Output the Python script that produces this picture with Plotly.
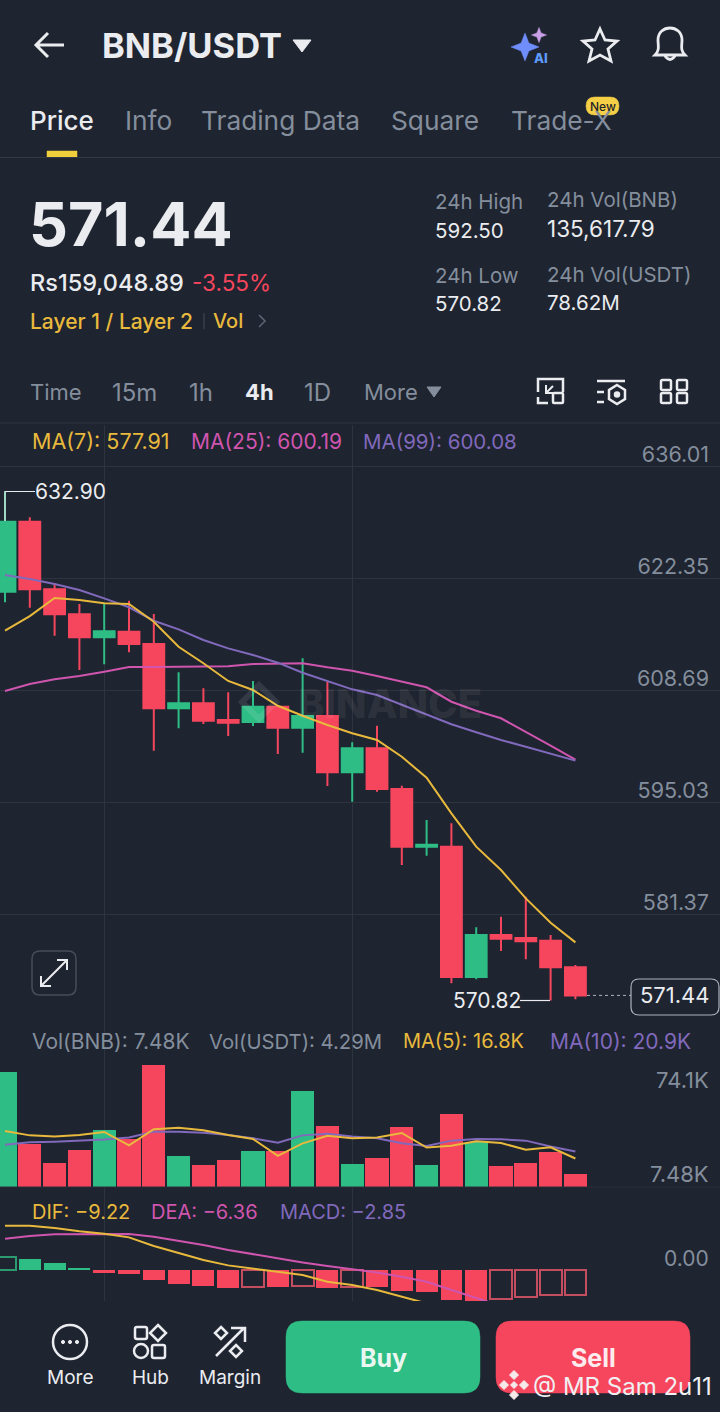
import plotly.graph_objects as go

W, H = 720, 1412
BG = "#1E2430"
RED = "#F6465D"
GREEN = "#2EBD85"
YELLOW = "#E8B93C"
MAGENTA = "#CF55AE"
PURPLE = "#8169BC"
GRAY = "#848E9C"
WHITE = "#EAECEF"
GRID = "#2E343F"
FONT = "Inter"

# candles
candle_x = list(range(24))
opens = [620.68, 629.22, 620.97, 617.92, 615.12, 615.80, 614.30, 606.46, 607.07, 605.03, 604.79, 606.65,
         604.09, 605.52, 598.65, 601.60, 596.62, 589.58, 589.58, 573.69, 578.81, 578.44, 578.11, 574.87]
highs = [632.90, 629.75, 621.70, 619.18, 619.26, 619.58, 617.96, 610.85, 608.90, 608.41, 609.79, 606.86,
         612.55, 609.70, 602.31, 604.34, 597.02, 592.83, 592.43, 579.75, 581.04, 583.48, 578.81, 575.15]
lows = [619.38, 618.73, 615.31, 611.13, 611.82, 613.29, 601.29, 604.02, 604.54, 603.08, 604.30, 600.88,
        601.04, 596.98, 595.07, 596.29, 587.35, 588.48, 572.92, 573.41, 576.86, 575.85, 570.82, 570.97]
closes = [629.22, 620.97, 617.92, 615.12, 615.85, 614.30, 606.46, 607.07, 604.95, 604.70, 606.65, 604.09,
          605.52, 598.65, 601.60, 596.62, 589.58, 589.82, 573.69, 578.81, 578.36, 578.04, 574.87, 571.44]
ma7 = [615.92, 617.71, 619.91, 619.67, 619.26, 619.18, 617.02, 613.97, 611.95, 609.79, 608.69, 606.77,
       605.55, 604.42, 603.41, 602.59, 600.55, 597.99, 593.65, 589.58, 586.74, 583.28, 580.31, 577.91]
ma25 = [608.57, 609.42, 609.99, 610.40, 610.92, 611.49, 611.49, 611.53, 611.58, 611.58, 611.86, 611.95,
        611.95, 611.46, 611.04, 610.40, 609.70, 609.02, 607.26, 606.16, 605.24, 603.60, 601.90, 600.19]
ma99 = [622.71, 622.23, 621.62, 620.89, 619.87, 618.78, 617.14, 616.09, 614.79, 613.77, 612.96, 612.02,
        610.80, 609.82, 608.77, 608.08, 606.86, 605.64, 604.51, 603.53, 602.59, 601.77, 600.88, 600.08]
price_ticks = [636.01, 622.35, 608.69, 595.03, 581.37, 567.71]

# volume panel, in thousands
volume = [67.5, 25.1, 13.9, 21.6, 33.6, 28.1, 71.8, 18.1, 13.2, 15.9, 21.2, 21.4,
          56.3, 35.7, 13.5, 17.3, 35.3, 12.8, 43.0, 26.7, 12.6, 14.3, 20.8, 7.48]
vol_ma5 = [33.0, 30.4, 29.8, 30.6, 32.4, 24.5, 34.0, 34.9, 33.4, 30.6, 28.3, 18.3,
           25.7, 30.2, 28.7, 29.2, 31.8, 23.2, 24.3, 26.9, 25.9, 22.0, 23.4, 16.8]
vol_ma10 = [24.9, 26.3, 26.7, 27.3, 27.9, 29.1, 32.6, 32.6, 32.0, 30.6, 28.7, 26.1,
            30.4, 31.4, 29.8, 28.7, 25.7, 24.1, 27.3, 28.3, 28.1, 27.3, 23.8, 20.9]

# macd panel
macd = [1.48, 1.22, 0.76, 0.23, -0.30, -0.46, -1.14, -1.56, -1.86, -2.01, -1.98, -1.90,
        -1.82, -2.01, -1.98, -1.98, -2.39, -2.51, -3.38, -3.50, -3.27, -3.08, -2.89, -2.85]
macd_hollow = [1, 0, 0, 0, 0, 0, 0, 0, 0, 0, 1, 0, 1, 0, 1, 0, 0, 0, 0, 0, 1, 1, 1, 1]
dif = [5.05, 5.05, 4.79, 4.41, 4.14, 3.72, 2.74, 1.98, 1.14, 0.53, 0.15, -0.27,
       -0.57, -1.33, -1.71, -2.28, -3.04, -3.80, -5.32, -6.30, -7.20, -8.00, -8.70, -9.22]
dea = [3.57, 3.88, 4.07, 4.10, 4.10, 4.10, 3.80, 3.34, 2.85, 2.28, 1.79, 1.33,
       0.87, 0.46, 0.08, -0.27, -0.76, -1.33, -2.28, -3.23, -4.20, -5.00, -5.70, -6.36]


def dom(top, bottom):
    return [1 - bottom / H, 1 - top / H]


def line_trace(y, color, xa, ya, width=2):
    return go.Scatter(x=candle_x, y=y, mode="lines", xaxis=xa, yaxis=ya, hoverinfo="skip",
                      line=dict(color=color, width=width))


fig = go.Figure()

fig.add_trace(go.Candlestick(
    x=candle_x, open=opens, high=highs, low=lows, close=closes, xaxis="x", yaxis="y", whiskerwidth=0,
    increasing=dict(line=dict(color=GREEN, width=2), fillcolor=GREEN),
    decreasing=dict(line=dict(color=RED, width=2), fillcolor=RED),
))
fig.add_trace(line_trace(ma25, MAGENTA, "x", "y"))
fig.add_trace(line_trace(ma99, PURPLE, "x", "y"))
fig.add_trace(line_trace(ma7, YELLOW, "x", "y"))

vol_colors = [GREEN if c >= o else RED for o, c in zip(opens, closes)]
fig.add_trace(go.Bar(x=candle_x, y=volume, xaxis="x2", yaxis="y2", width=0.93, marker=dict(color=vol_colors, line_width=0)))
fig.add_trace(line_trace(vol_ma10, PURPLE, "x2", "y2"))
fig.add_trace(line_trace(vol_ma5, YELLOW, "x2", "y2"))

macd_base = [GREEN if v > 0 else RED for v in macd]
macd_edge = ["#2C9C70" if v > 0 else "#C44E60" for v in macd]
fig.add_trace(go.Bar(
    x=candle_x, y=macd, xaxis="x3", yaxis="y3", width=0.88,
    marker=dict(
        color=["rgba(0,0,0,0)" if h else c for h, c in zip(macd_hollow, macd_base)],
        line=dict(color=macd_edge, width=[2 if h else 0 for h in macd_hollow]),
    ),
))
fig.add_trace(line_trace(dea, MAGENTA, "x3", "y3"))
fig.add_trace(line_trace(dif, YELLOW, "x3", "y3"))

# pixel axes for the app chrome around the chart
fig.add_trace(go.Scatter(x=[], y=[], xaxis="x4", yaxis="y4"))

x_range = [-0.2016, 28.83]
x_common = dict(range=x_range, tickvals=[4, 14], showticklabels=False, ticks="", showgrid=True,
                gridcolor=GRID, gridwidth=1, zeroline=False, showline=False, fixedrange=True)

fig.update_layout(
    width=W, height=H, margin=dict(l=0, r=0, t=0, b=0), paper_bgcolor=BG, plot_bgcolor="rgba(0,0,0,0)",
    showlegend=False, bargap=0, boxgap=0.16, boxgroupgap=0,
    font=dict(family=FONT, color=GRAY),
    xaxis=dict(x_common, domain=[0, 1], anchor="y", rangeslider=dict(visible=False)),
    xaxis2=dict(x_common, domain=[0, 1], anchor="y2"),
    xaxis3=dict(x_common, domain=[0, 1], anchor="y3"),
    xaxis4=dict(domain=[0, 1], range=[0, W], visible=False, anchor="y4"),
    yaxis=dict(domain=dom(425, 1026), range=[567.71, 641.01], side="right", anchor="x",
               tickvals=price_ticks, ticktext=[f"{v:.2f}" for v in price_ticks], ticks="",
               ticklabelposition="inside", ticklabelstandoff=8, ticklabelshift=-12,
               tickfont=dict(size=21.5, color=GRAY), showgrid=True, gridcolor=GRID, zeroline=False, showline=False),
    yaxis2=dict(domain=dom(1026, 1187), range=[0, 94.8], anchor="x2", showticklabels=False, ticks="",
                showgrid=False, zeroline=False, showline=False),
    yaxis3=dict(domain=dom(1187, 1301), range=[-3.53, 9.46], anchor="x3", showticklabels=False, ticks="",
                showgrid=False, zeroline=False, showline=False),
    yaxis4=dict(domain=[0, 1], range=[H, 0], visible=False, anchor="x4"),
)

shapes = []
notes = []


def text(x, y, s, size=20, color=GRAY, anchor="left", weight=400):
    if anchor == "left":
        x -= 2
    notes.append(dict(x=x, y=y, xref="x4", yref="y4", text=s, showarrow=False, xanchor=anchor, yanchor="middle",
                      font=dict(size=size, color=color, family=FONT, weight=weight)))


def path(d, color=WHITE, width=2.5, fill=None):
    shapes.append(dict(type="path", path=d, xref="x4", yref="y4", layer="above",
                       line=dict(color=color, width=width), fillcolor=fill or "rgba(0,0,0,0)"))


def rrect(x0, y0, x1, y1, r, color=WHITE, width=2.5, fill=None):
    d = (f"M {x0+r} {y0} L {x1-r} {y0} Q {x1} {y0} {x1} {y0+r} L {x1} {y1-r} Q {x1} {y1} {x1-r} {y1} "
         f"L {x0+r} {y1} Q {x0} {y1} {x0} {y1-r} L {x0} {y0+r} Q {x0} {y0} {x0+r} {y0} Z")
    path(d, color, width, fill)


def circle(cx, cy, r, color=WHITE, width=2.5, fill=None):
    shapes.append(dict(type="circle", x0=cx-r, x1=cx+r, y0=cy-r, y1=cy+r, xref="x4", yref="y4", layer="above",
                       line=dict(color=color, width=width), fillcolor=fill or "rgba(0,0,0,0)"))


def sparkle(cx, cy, r, fill):
    k = r * 0.28
    path(f"M {cx} {cy-r} L {cx+k} {cy-k} L {cx+r} {cy} L {cx+k} {cy+k} L {cx} {cy+r} L {cx-k} {cy+k} "
         f"L {cx-r} {cy} L {cx-k} {cy-k} Z", fill, 0.5, fill)


def diamond(cx, cy, r, color=WHITE, width=2.5, fill=None):
    path(f"M {cx} {cy-r} L {cx+r} {cy} L {cx} {cy+r} L {cx-r} {cy} Z", color, width, fill)


# header
path("M 64 45 L 36 45 M 48 33 L 36 45 L 48 57", WHITE, 3)
text(102, 45, "BNB/USDT", 34.5, WHITE, weight=700)
path("M 293 40 L 311 40 L 302 52 Z", WHITE, 1, WHITE)
sparkle(525, 47, 14, "#6F8DFB")
sparkle(539, 35, 7.5, "#C9A0E8")
text(541, 58, "AI", 13, "#5E9BFF", "center", 800)
path("M 600 29 L 605 40 L 617 41 L 608 49 L 611 61 L 600 55 L 589 61 L 592 49 L 583 41 L 595 40 Z", WHITE, 2.8)
path("M 655 55 C 660 50 658 46 658 40 C 658 32 664 28 670 28 C 676 28 682 32 682 40 C 682 46 680 50 685 55 Z "
     "M 665 56 Q 670 63 675 56", WHITE, 2.8)

# tabs
text(30, 120, "Price", 26, WHITE, weight=500)
for x, s in [(125, "Info"), (201, "Trading Data"), (391, "Square"), (511, "Trade-X")]:
    text(x, 120, s, 26.3, GRAY)
rrect(586, 97, 619, 115, 9, "#F5CF45", 0.5, "#F5CF45")
text(602.5, 106, "New", 12, "#1E2329", "center", 500)
path("M 47 151 L 77 151 L 77 157 L 47 157 Z", "#F0CE3C", 0.5, "#F0CE3C")
path("M 0 157.5 L 720 157.5", "#333944", 1)

# price block
text(29, 224, "571.44", 61, WHITE, weight=700)
text(30, 282, "Rs159,048.89", 23.5, WHITE, weight=500)
text(192, 282, "-3.55%", 22.5, RED)
text(30, 321, "Layer 1 / Layer 2", 21, YELLOW, weight=500)
path("M 204 313 L 204 329", "#474D57", 1)
text(213, 321, "Vol", 20, YELLOW, weight=500)
path("M 259 315 L 265 321 L 259 327", "#5E6673", 1.5)
for x, y, s in [(435, 201, "24h High"), (547, 199, "24h Vol(BNB)"), (435, 275, "24h Low"), (547, 274, "24h Vol(USDT)")]:
    text(x, y, s, 20.5, GRAY)
for x, y, s, size in [(435, 230, "592.50", 20.5), (547, 228, "135,617.79", 22.5), (435, 303, "570.82", 20.5), (547, 302, "78.62M", 20.5)]:
    text(x, y, s, size, WHITE)

# interval row
for x, s, size in [(30, "Time", 22), (112, "15m", 24), (189, "1h", 24), (304, "1D", 24), (364, "More", 22)]:
    text(x, 392, s, size, GRAY)
text(245, 392, "4h", 22, WHITE, weight=700)
path("M 427 387 L 441 387 L 434 397 Z", GRAY, 1, GRAY)
path("M 538 392 L 538 379 L 563 379 L 563 392 M 538 397 L 538 403 L 548 403", WHITE, 2.5)
rrect(553, 393, 563, 403, 1, WHITE, 2.5)
path("M 546 385 L 546 393 L 554 393 M 546 393 L 553 386", WHITE, 2)
path("M 597 381 L 625 381 M 597 392 L 604 392 M 597 402 L 604 402", WHITE, 2.5)
path("M 617 385 L 625 390 L 625 399 L 617 404 L 609 399 L 609 390 Z", WHITE, 2.5)
circle(617, 394.5, 2.5, WHITE, 1.5, WHITE)
for x0, y0 in [(661, 380), (677, 380), (661, 393), (677, 393)]:
    rrect(x0, y0, x0+10, y0+10, 1.5, WHITE, 2.5)

# chart headers and separators
path("M 0 423 L 720 423", "#2E343F", 1)
text(32, 441, "MA(7): 577.91", 21.5, YELLOW)
text(191, 441, "MA(25): 600.19", 21, MAGENTA)
text(363, 441, "MA(99): 600.08", 20.5, PURPLE)

# watermark
diamond(259, 702, 17, "rgba(255,255,255,0.10)", 6)
text(298, 703, "BINANCE", 40, "rgba(255,255,255,0.08)", weight=800)

# high and low callouts
notes.append(dict(x=0, y=632.90, xref="x", yref="y", text="632.90", showarrow=False, xanchor="left", xshift=28,
                  font=dict(size=21, color=WHITE, family=FONT)))
notes.append(dict(x=22, y=570.82, xref="x", yref="y", text="570.82", showarrow=False, xanchor="right", xshift=-28,
                  font=dict(size=21, color=WHITE, family=FONT)))
path("M 5 521 L 5 491.5 L 35 491.5", WHITE, 1.2)
path("M 520 1000.5 L 550 1000.5", WHITE, 1.2)
path("M 587 995.4 L 631 995.4", "#AEB4BC", 1)
shapes[-1]["line"]["dash"] = "3px,3px"
rrect(631, 979, 719, 1015, 8, "#AEB4BC", 1.2, BG)
notes.append(dict(x=675, y=571.44, xref="x4", yref="y", text="571.44", showarrow=False, xanchor="center",
                  font=dict(size=22, color=WHITE, family=FONT)))

# fullscreen button
rrect(32, 951, 76, 995, 8, "#474D57", 1.5)
path("M 41 986 L 67 960 M 57 960 L 67 960 L 67 970 M 41 976 L 41 986 L 51 986", WHITE, 2)

# volume and macd headers
text(32, 1041, "Vol(BNB): 7.48K", 21)
text(209, 1041, "Vol(USDT): 4.29M", 20.3)
text(403, 1041, "MA(5): 16.8K", 20, YELLOW)
text(550, 1041, "MA(10): 20.9K", 21, PURPLE)
path("M 0 1187 L 720 1187", "#2A2F3A", 1)
notes.append(dict(x=1, y=74.1, xref="paper", yref="y2", text="74.1K", showarrow=False, xanchor="right", xshift=-9,
                  yshift=-19, font=dict(size=22, color=GRAY, family=FONT)))
notes.append(dict(x=1, y=7.48, xref="paper", yref="y2", text="7.48K", showarrow=False, xanchor="right", xshift=-9,
                  font=dict(size=22, color=GRAY, family=FONT)))
text(32, 1212, "DIF: \u22129.22", 20, YELLOW)
text(151, 1212, "DEA: \u22126.36", 20, MAGENTA)
text(280, 1212, "MACD: \u22122.85", 20, PURPLE)
notes.append(dict(x=1, y=0, xref="paper", yref="y3", text="0.00", showarrow=False, xanchor="right", xshift=-9,
                  yshift=12, font=dict(size=21, color=GRAY, family=FONT)))

# footer
circle(70, 1342, 17, WHITE, 2.5)
for x in (63, 70, 77):
    circle(x, 1342, 1.6, WHITE, 1, WHITE)
text(70, 1377, "More", 19, WHITE, "center")
rrect(135, 1327, 147, 1339, 2, WHITE, 2.5)
diamond(158, 1333, 8, WHITE, 2.5)
circle(141, 1351, 7, WHITE, 2.5)
rrect(152, 1345, 165, 1358, 2, WHITE, 2.5)
text(150, 1377, "Hub", 19, WHITE, "center")
path("M 216 1356 L 244 1328 M 231 1328 L 245 1328 L 245 1342", WHITE, 2.5)
diamond(221, 1333, 6, WHITE, 2.5)
diamond(236, 1351, 6, WHITE, 2.5)
text(230, 1377, "Margin", 19, WHITE, "center")
rrect(286, 1321, 480, 1393, 16, GREEN, 0.5, GREEN)
text(383, 1358, "Buy", 25, "#EAF7F1", "center", 700)
rrect(496, 1321, 690, 1393, 16, RED, 0.5, RED)
text(593, 1358, "Sell", 25, "#FDEBEE", "center", 700)

# poster tag
for x, y in [(504, 1385), (524, 1385), (514, 1375), (514, 1395)]:
    diamond(x, y, 4.5, "#F5E9EA", 1, "#F5E9EA")
diamond(514, 1385, 3.5, "#F5E9EA", 1, "#F5E9EA")
text(533, 1386, "@ MR Sam 2u11", 24, "#F0F0F2")

fig.update_layout(shapes=shapes, annotations=notes)

fig.write_html("out.html", config=dict(displayModeBar=False), post_script="document.body.style.margin='0';")
